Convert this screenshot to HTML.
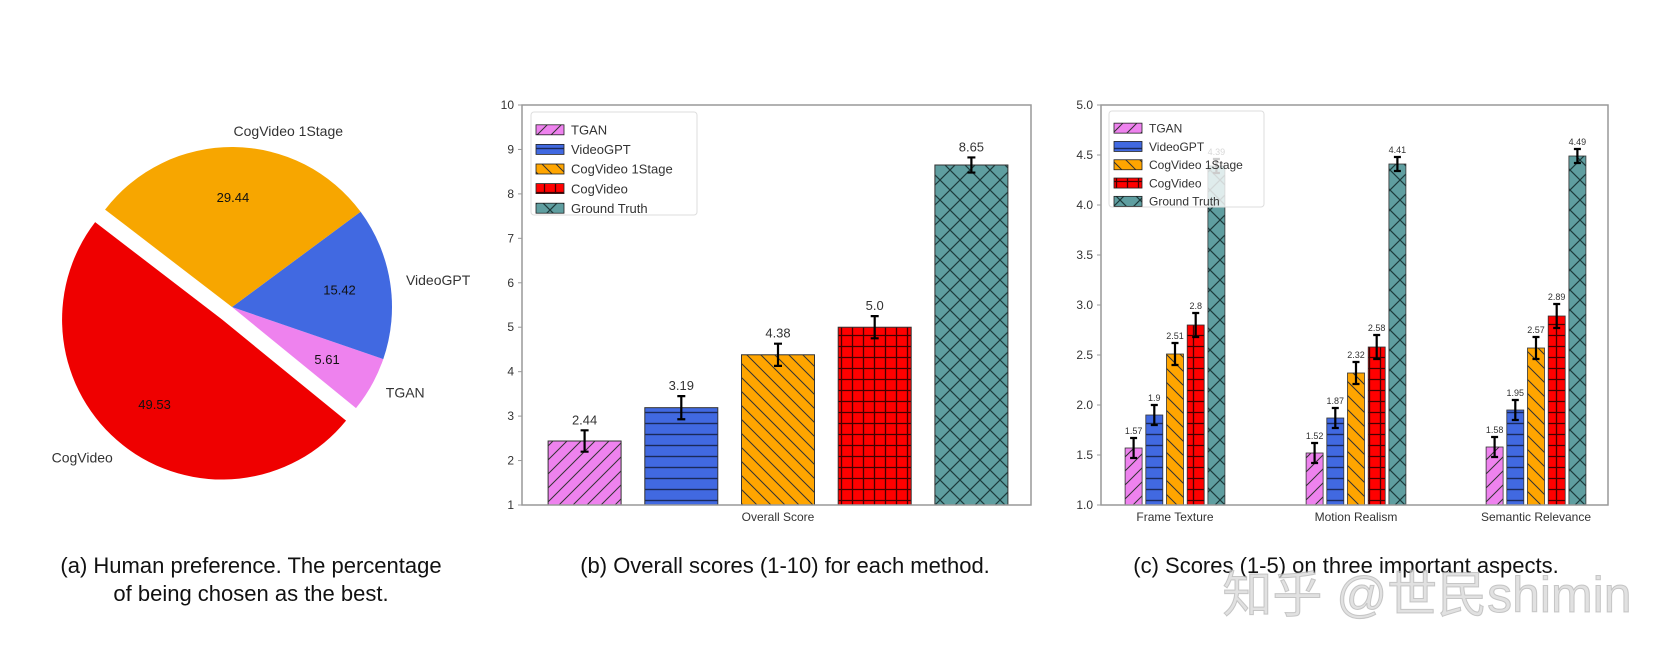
<!DOCTYPE html>
<html><head><meta charset="utf-8"><style>
html,body{margin:0;padding:0;background:#fff;}
svg{display:block;font-family:"Liberation Sans","DejaVu Sans",sans-serif;}
</style></head><body>
<svg id="fig" width="1676" height="660" viewBox="0 0 1676 660" xmlns="http://www.w3.org/2000/svg">
<defs>
<pattern id="h-tgan" patternUnits="userSpaceOnUse" width="14" height="14"><rect width="14" height="14" fill="#ee82ee"/><path d="M-2,16 L16,-2 M-2,2 L2,-2 M12,16 L16,12" stroke="#333" stroke-width="1"/></pattern>
<pattern id="h-vgpt" patternUnits="userSpaceOnUse" width="10" height="11"><rect width="10" height="11" fill="#4169e1"/><path d="M0,5.5 L10,5.5" stroke="#1a2a5a" stroke-width="1.4"/></pattern>
<pattern id="h-1st" patternUnits="userSpaceOnUse" width="14" height="14"><rect width="14" height="14" fill="#ffa500"/><path d="M-2,-2 L16,16 M-2,12 L2,16 M12,-2 L16,2" stroke="#333" stroke-width="1"/></pattern>
<pattern id="h-cog" patternUnits="userSpaceOnUse" width="11" height="11"><rect width="11" height="11" fill="#ff0000"/><path d="M5.5,0 L5.5,11 M0,5.5 L11,5.5" stroke="#400" stroke-width="1.3"/></pattern>
<pattern id="h-gt" patternUnits="userSpaceOnUse" width="20" height="20"><rect width="20" height="20" fill="#5f9ea0"/><path d="M0,0 L20,20 M20,0 L0,20" stroke="#1c3a3b" stroke-width="1.2"/></pattern>
</defs>
<g id="pie"></g>
<g id="mid"></g>
<g id="right"></g>
<g font-size="22" fill="#111" text-anchor="middle">
<text x="251" y="573">(a) Human preference. The percentage</text>
<text x="251" y="601">of being chosen as the best.</text>
<text x="785" y="573">(b) Overall scores (1-10) for each method.</text>
<text x="1346" y="573">(c) Scores (1-5) on three important aspects.</text>
</g>
<text x="1427" y="612" font-size="50" text-anchor="middle" fill="rgba(215,215,215,0.75)" stroke="rgba(170,170,170,0.6)" stroke-width="1" font-family="'Liberation Sans','Noto Sans CJK SC',sans-serif">知乎 @世民shimin</text>
</svg>
<script>
// ---------- data ----------
const methods = ["TGAN","VideoGPT","CogVideo 1Stage","CogVideo","Ground Truth"];
const fills = ["url(#h-tgan)","url(#h-vgpt)","url(#h-1st)","url(#h-cog)","url(#h-gt)"];
const pieLabels = ["TGAN","VideoGPT","CogVideo 1Stage","CogVideo"];
const pieValues = [5.61, 15.42, 29.44, 49.53];
const overallValues = [2.44, 3.19, 4.38, 5.0, 8.65];
const overallErrors = [0.24, 0.26, 0.25, 0.25, 0.17];
const overallTicks = [1,2,3,4,5,6,7,8,9,10];
const aspectCats = ["Frame Texture","Motion Realism","Semantic Relevance"];
const aspectTGAN = [1.57, 1.52, 1.58];
const aspectVGPT = [1.9, 1.87, 1.95];
const aspect1St = [2.51, 2.32, 2.57];
const aspectCog = [2.8, 2.58, 2.89];
const aspectGT = [4.39, 4.41, 4.49];
const aspectErr = [0.1, 0.1, 0.11, 0.12, 0.07];
const aspectTicks = [1.0,1.5,2.0,2.5,3.0,3.5,4.0,4.5,5.0];

const NS="http://www.w3.org/2000/svg";
function mk(parent,tag,attrs,text){const e=document.createElementNS(NS,tag);for(const k in attrs)e.setAttribute(k,attrs[k]);if(text!==undefined)e.textContent=text;parent.appendChild(e);return e;}

// ---------- pie ----------
(function(){
  const g=document.getElementById('pie');
  const cx=232, cy=307, r=160;
  const cols=["#ee82ee","#4169e1","#f7a600","#ef0000"];
  const total=pieValues.reduce((a,b)=>a+b,0);
  let a0=320.8;
  pieValues.forEach((v,i)=>{
    const span=v/total*360, a1=a0+span, mid=(a0+a1)/2*Math.PI/180;
    let ox=0, oy=0;
    if(i===3){ox=0.1*r*Math.cos(mid); oy=-0.1*r*Math.sin(mid);}
    const p=(a)=>[cx+ox+r*Math.cos(a*Math.PI/180), cy+oy-r*Math.sin(a*Math.PI/180)];
    const s=p(a0), e=p(a1);
    const w=mk(g,'path',{d:`M${cx+ox},${cy+oy} L${s[0]},${s[1]} A${r},${r} 0 ${span>180?1:0} 0 ${e[0]},${e[1]} Z`,fill:cols[i]});
    
    
    const pt=mk(g,'text',{x:cx+ox+0.68*r*Math.cos(mid),y:cy+oy-0.68*r*Math.sin(mid)+4,'font-size':13,'text-anchor':'middle',fill:'#111'},v.toFixed(2));
    
    
    const lx=cx+ox+1.1*r*Math.cos(mid), ly=cy+oy-1.1*r*Math.sin(mid);
    const anc=Math.cos(mid)>=0?'start':'end';
    const lt=mk(g,'text',{x:lx,y:ly+5,'font-size':14,'text-anchor':anc,fill:'#333'},pieLabels[i]);
    
    
    a0=a1;
  });
})();

function legend(g,x,y,w,h,step,fs,alpha){
  const b=mk(g,'rect',{x,y,width:w,height:h,rx:3,fill:`rgba(255,255,255,${alpha})`,stroke:'#ddd'});
  
  
  methods.forEach((m,i)=>{
    const cy=y+10+step*i+step/2-2;
    const pr=mk(g,'rect',{x:x+5,y:cy-5,width:28,height:10,fill:fills[i],stroke:'#222','stroke-width':0.8});
    
    
    const t=mk(g,'text',{x:x+40,y:cy+fs*0.36,'font-size':fs,fill:'#333'},m);
    
    
  });
}
function errbar(g,x,y1,y2,cap){
  const e=mk(g,'path',{d:`M${x},${y1} L${x},${y2} M${x-cap},${y1} L${x+cap},${y1} M${x-cap},${y2} L${x+cap},${y2}`,stroke:'#000','stroke-width':2.2,fill:'none'});
  
  
}

// ---------- middle chart ----------
(function(){
  const g=document.getElementById('mid');
  const L=522,R=1031,T=105,B=505, ymin=1,ymax=10;
  const y=v=>B-(v-ymin)/(ymax-ymin)*(B-T);
  const cx=778, step=96.7, bw=73;
  overallValues.forEach((v,i)=>{
    const xc=cx+(i-2)*step;
    const b=mk(g,'rect',{x:xc-bw/2,y:y(v),width:bw,height:B-y(v),fill:fills[i],stroke:'#333','stroke-width':1});
    
    
    errbar(g,xc,y(v+overallErrors[i]),y(v-overallErrors[i]),4);
    const t=mk(g,'text',{x:xc,y:y(v+overallErrors[i])-6,'font-size':13,'text-anchor':'middle',fill:'#333'},String(v===5?'5.0':v));
    
    
  });
  const f=mk(g,'rect',{x:L,y:T,width:R-L,height:B-T,fill:'none',stroke:'#999','stroke-width':1.5});
  
  
  overallTicks.forEach(v=>{
    mk(g,'line',{x1:L-4,x2:L,y1:y(v),y2:y(v),stroke:'#999'});
    const t=mk(g,'text',{x:L-8,y:y(v)+4,'font-size':12,'text-anchor':'end',fill:'#333'},String(v));
    
    
  });
  const xl=mk(g,'text',{x:cx,y:521,'font-size':12,'text-anchor':'middle',fill:'#333'},'Overall Score');
  
  
  legend(g,531,112,166,103,19.6,13,1);
})();

// ---------- right chart ----------
(function(){
  const g=document.getElementById('right');
  const L=1101,R=1608,T=105,B=505, ymin=1,ymax=5;
  const y=v=>B-(v-ymin)/(ymax-ymin)*(B-T);
  const centers=[1175,1356,1536], step=20.7, bw=17;
  const series=[aspectTGAN,aspectVGPT,aspect1St,aspectCog,aspectGT];
  aspectCats.forEach((c,ci)=>{
    series.forEach((s,i)=>{
      const v=s[ci], xc=centers[ci]+(i-2)*step;
      const b=mk(g,'rect',{x:xc-bw/2,y:y(v),width:bw,height:B-y(v),fill:fills[i],stroke:'#333','stroke-width':0.8});
      
      
      errbar(g,xc,y(v+aspectErr[i]),y(v-aspectErr[i]),3.5);
      const t=mk(g,'text',{x:xc,y:y(v+aspectErr[i])-4,'font-size':9,'text-anchor':'middle',fill:'#333'},String(v));
      
      
    });
    const xl=mk(g,'text',{x:centers[ci],y:521,'font-size':12,'text-anchor':'middle',fill:'#333'},c);
    
    
  });
  const f=mk(g,'rect',{x:L,y:T,width:R-L,height:B-T,fill:'none',stroke:'#999','stroke-width':1.5});
  
  
  aspectTicks.forEach(v=>{
    mk(g,'line',{x1:L-4,x2:L,y1:y(v),y2:y(v),stroke:'#999'});
    const t=mk(g,'text',{x:L-8,y:y(v)+4,'font-size':12,'text-anchor':'end',fill:'#333'},v.toFixed(1));
    
    
  });
  legend(g,1109,111,155,96,18.3,12,0.8);
})();
</script>
</body></html>
